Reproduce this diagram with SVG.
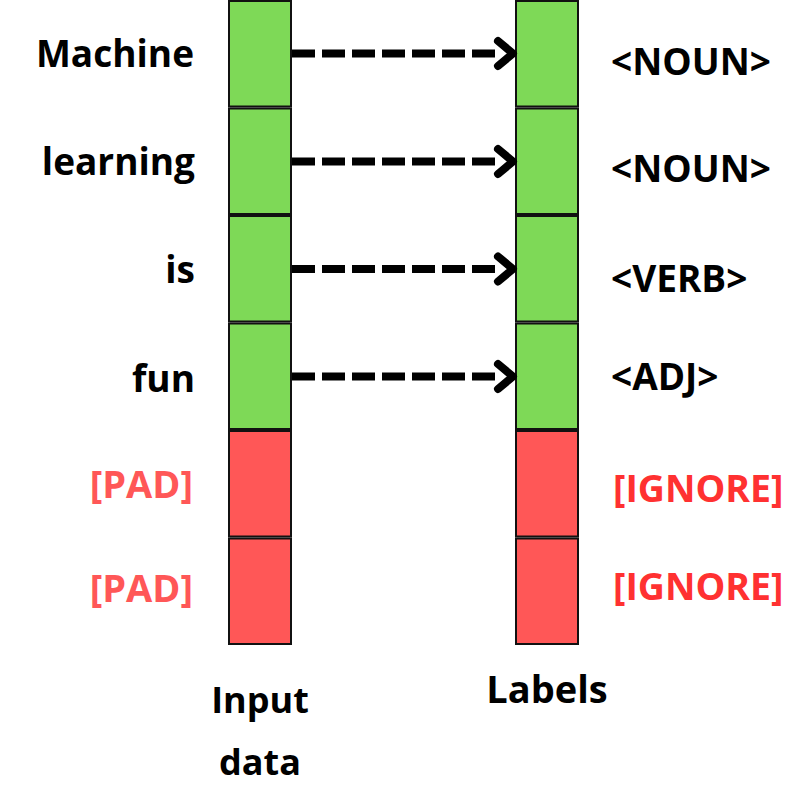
<svg xmlns="http://www.w3.org/2000/svg" width="808" height="786" viewBox="0 0 808 786">
<style>
.g{fill:#7ED957;stroke:#111;stroke-width:2}
.r{fill:#FF5757;stroke:#111;stroke-width:2}
text{font-family:"Open Sans","Liberation Sans",sans-serif;font-weight:700;font-size:37px;fill:#000}
.lft{text-anchor:end}
.pad{fill:#FF5757;font-size:38px}
.ign{fill:#FF3131;font-size:37.5px}
.dash{stroke:#000;stroke-width:8;stroke-dasharray:23 7;fill:none}
.head{stroke:#000;stroke-width:8;fill:none;stroke-linecap:round;stroke-linejoin:round}
.cap{text-anchor:middle;font-size:36px}
</style>
<rect width="808" height="786" fill="#fff"/>
<g id="input-column">
<g id="in-1"><rect class="g" x="229" y="1" width="62" height="105.5"/><text class="lft" x="194" y="67">Machine</text></g>
<g id="in-2"><rect class="g" x="229" y="108.5" width="62" height="105.5"/><text class="lft" x="195" y="175">learning</text></g>
<g id="in-3"><rect class="g" x="229" y="216" width="62" height="105.5"/><text class="lft" x="195" y="283">is</text></g>
<g id="in-4"><rect class="g" x="229" y="323.5" width="62" height="105.5"/><text class="lft" x="195" y="392">fun</text></g>
<g id="in-5"><rect class="r" x="229" y="431" width="62" height="105.5"/><text class="lft pad" x="193" y="498">[PAD]</text></g>
<g id="in-6"><rect class="r" x="229" y="538.5" width="62" height="105.5"/><text class="lft pad" x="193" y="602">[PAD]</text></g>
</g>
<g id="label-column">
<g id="lab-1"><rect class="g" x="516" y="1" width="62" height="105.5"/><text x="611" y="75">&lt;NOUN&gt;</text></g>
<g id="lab-2"><rect class="g" x="516" y="108.5" width="62" height="105.5"/><text x="611" y="182">&lt;NOUN&gt;</text></g>
<g id="lab-3"><rect class="g" x="516" y="216" width="62" height="105.5"/><text x="611" y="292">&lt;VERB&gt;</text></g>
<g id="lab-4"><rect class="g" x="516" y="323.5" width="62" height="105.5"/><text x="611" y="390">&lt;ADJ&gt;</text></g>
<g id="lab-5"><rect class="r" x="516" y="431" width="62" height="105.5"/><text class="ign" x="613" y="502">[IGNORE]</text></g>
<g id="lab-6"><rect class="r" x="516" y="538.5" width="62" height="105.5"/><text class="ign" x="613" y="600">[IGNORE]</text></g>
</g>
<g id="connectors">
<line class="dash" x1="292" y1="53.5" x2="496" y2="53.5"/>
<polyline class="head" points="498,41 513,53.5 498,66"/>
<line class="dash" x1="292" y1="161.5" x2="496" y2="161.5"/>
<polyline class="head" points="498,149 513,161.5 498,174"/>
<line class="dash" x1="292" y1="269" x2="496" y2="269"/>
<polyline class="head" points="498,256.5 513,269 498,281.5"/>
<line class="dash" x1="292" y1="376.5" x2="496" y2="376.5"/>
<polyline class="head" points="498,364 513,376.5 498,389"/>
</g>
<g id="captions">
<text class="cap" x="260" y="713">Input</text>
<text class="cap" x="260" y="775">data</text>
<text class="cap" x="547" y="703" style="font-size:38px">Labels</text>
</g>
</svg>
